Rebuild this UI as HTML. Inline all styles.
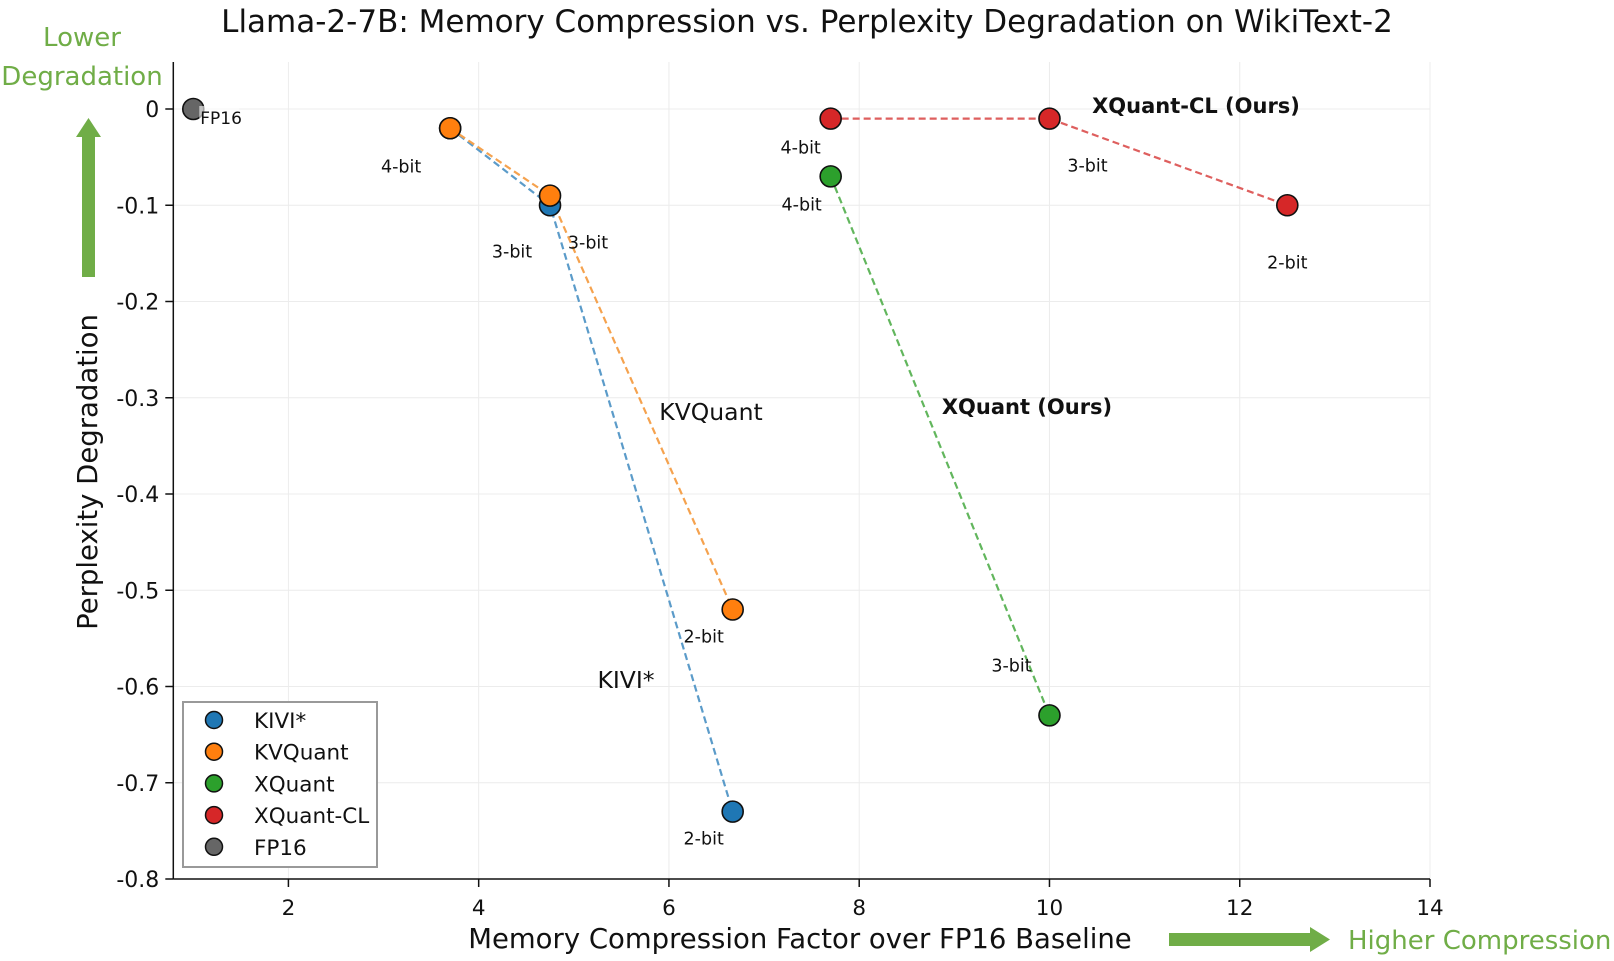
<!DOCTYPE html>
<html><head><meta charset="utf-8"><style>
body{margin:0;background:#fff}
svg{display:block;font-family:"DejaVu Sans","Liberation Sans",sans-serif}
</style></head><body>
<svg id="chart" width="1614" height="961" viewBox="0 0 1614 961">
<text x="807" y="32" font-size="31" text-anchor="middle" fill="#111">Llama-2-7B: Memory Compression vs. Perplexity Degradation on WikiText-2</text>
<g id="grid"></g>
<g id="axes"></g>
<g id="series"></g>
<g id="labels"></g>
<text x="711" y="420" font-size="23.5" text-anchor="middle" fill="#111">KVQuant</text>
<text x="626" y="688" font-size="23.5" text-anchor="middle" fill="#111">KIVI*</text>
<text x="1027" y="414" font-size="21" font-weight="bold" text-anchor="middle" fill="#111">XQuant (Ours)</text>
<text x="1196" y="113" font-size="21" font-weight="bold" text-anchor="middle" fill="#111">XQuant-CL (Ours)</text>
<text x="82" y="46" font-size="26" text-anchor="middle" fill="#70ad47">Lower</text>
<text x="82" y="85" font-size="26" text-anchor="middle" fill="#70ad47">Degradation</text>
<g><rect x="82" y="136" width="13" height="141" fill="#70ad47"/><polygon points="76,137 101,137 88.5,118" fill="#70ad47"/></g>
<g><rect x="1169" y="933" width="142" height="13" fill="#70ad47"/><polygon points="1310,927 1310,952 1330,939.5" fill="#70ad47"/></g>
<text x="1348" y="949" font-size="26" fill="#70ad47">Higher Compression</text>
<text x="800" y="948" font-size="27.5" text-anchor="middle" fill="#111">Memory Compression Factor over FP16 Baseline</text>
<text transform="translate(97,472) rotate(-90)" font-size="27.5" text-anchor="middle" fill="#111">Perplexity Degradation</text>
<g>
<rect x="183" y="702" width="194" height="165" fill="#fff" stroke="#999" stroke-width="2"/>
<g id="legend-items"></g>
</g>
</svg>
<script>
const xTicks=[2,4,6,8,10,12,14];
const yTicks=[0,-0.1,-0.2,-0.3,-0.4,-0.5,-0.6,-0.7,-0.8];
const yTickLabels=["0","-0.1","-0.2","-0.3","-0.4","-0.5","-0.6","-0.7","-0.8"];
const kiviX=[3.7,4.75,6.67], kiviY=[-0.02,-0.1,-0.73];
const kvquantX=[3.7,4.75,6.67], kvquantY=[-0.02,-0.09,-0.52];
const xquantX=[7.7,10], xquantY=[-0.07,-0.63];
const xquantclX=[7.7,10,12.5], xquantclY=[-0.01,-0.01,-0.1];
const fp16X=[1], fp16Y=[0];
const seriesNames=["KIVI*","KVQuant","XQuant","XQuant-CL","FP16"];
const X0=173.3,X1=1430,XMIN=0.79,XMAX=14,Y0=109,PER=962.5;
const sx=v=>X0+(v-XMIN)*(X1-X0)/(XMAX-XMIN);
const sy=v=>Y0-v*PER;
const NS="http://www.w3.org/2000/svg";
function mk(t,a,p){const e=document.createElementNS(NS,t);for(const k in a)e.setAttribute(k,a[k]);p.appendChild(e);return e;}
const grid=document.getElementById('grid'),axes=document.getElementById('axes'),ser=document.getElementById('series'),lab=document.getElementById('labels');
xTicks.forEach(t=>{const x=sx(t);
const g=mk('line',{x1:x,x2:x,y1:62,y2:879,stroke:'#ececec','stroke-width':1},grid);


const tk=mk('line',{x1:x,x2:x,y1:879,y2:887,stroke:'#111','stroke-width':1.5},axes);


const tl=mk('text',{x:x,y:915,'font-size':21.5,'text-anchor':'middle',fill:'#111'},axes);tl.textContent=t;

});
yTicks.forEach((t,i)=>{const y=sy(t);
const g=mk('line',{x1:X0,x2:X1,y1:y,y2:y,stroke:'#ececec','stroke-width':1},grid);


const tk=mk('line',{x1:X0-8,x2:X0,y1:y,y2:y,stroke:'#111','stroke-width':1.5},axes);


const tl=mk('text',{x:X0-14,y:y+8,'font-size':22,'text-anchor':'end',fill:'#111'},axes);tl.textContent=yTickLabels[i];

});
const sp1=mk('line',{x1:X0,x2:X0,y1:62,y2:879,stroke:'#111','stroke-width':1.5},axes);


const sp2=mk('line',{x1:X0,x2:X1,y1:879,y2:879,stroke:'#111','stroke-width':1.5},axes);


const colors=['#1f77b4','#ff7f0e','#2ca02c','#d62728','#666666'];
const lineCol=['#5b9bc9','#f5a24e','#62b65d','#de5f5e'];
const all=[[kiviX,kiviY],[kvquantX,kvquantY],[xquantX,xquantY],[xquantclX,xquantclY],[fp16X,fp16Y]];
const slug=['kivi','kvquant','xquant','xquant-cl','fp16'];
[0,1,2,3].forEach(i=>{const [xs,ys]=all[i];
const pl=mk('polyline',{points:xs.map((v,j)=>sx(v)+','+sy(ys[j])).join(' '),fill:'none',stroke:lineCol[i],'stroke-width':2.2,'stroke-dasharray':'7,4'},ser);

});
[4,0,1,2,3].forEach(i=>{const [xs,ys]=all[i];xs.forEach((v,j)=>{
const c=mk('circle',{cx:sx(v),cy:sy(ys[j]),r:10.5,fill:colors[i],stroke:'#111','stroke-width':1.6},ser);

});});
const ptLabels=[[0,1,'3-bit',-38,46],[0,2,'2-bit',-29,27],[1,0,'4-bit',-49,38],[1,1,'3-bit',38,47],[1,2,'2-bit',-29,27],
[2,0,'4-bit',-29,28],[2,1,'3-bit',-38,-50],[3,0,'4-bit',-30,29],[3,1,'3-bit',38,47],[3,2,'2-bit',0,57]];
ptLabels.forEach(l=>{const [xs,ys]=all[l[0]];
const t=mk('text',{x:sx(xs[l[1]])+l[3],y:sy(ys[l[1]])+l[4]+6,'font-size':17.5,'text-anchor':'middle',fill:'#111'},lab);t.textContent=l[2];

});
const fb=mk('rect',{x:sx(1)+6,y:sy(0)-3,width:40,height:18,fill:'#fff',opacity:0.6},lab);


const ft=mk('text',{x:sx(1)+7,y:sy(0)+15,'font-size':17,fill:'#111'},lab);ft.textContent='FP16';


const li=document.getElementById('legend-items');
seriesNames.forEach((n,i)=>{const y=720+i*31.7;
const c=mk('circle',{cx:214,cy:y,r:8.5,fill:colors[i],stroke:'#111','stroke-width':1.5},li);


const t=mk('text',{x:254,y:y+8,'font-size':21.5,fill:'#111'},li);t.textContent=n;

});
</script>
</body></html>
